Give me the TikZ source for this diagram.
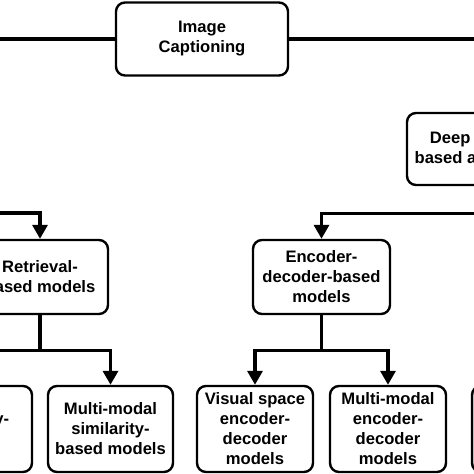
\documentclass[tikz,border=0pt]{standalone}
\usepackage{fontspec}
\setmainfont{Liberation Sans}
\usetikzlibrary{arrows.meta, positioning}

\begin{document}
\begin{tikzpicture}[x=1pt, y=-1pt,
  box/.style={draw, line width=2.4pt, rounded corners=9pt, align=center,
    font=\bfseries\fontsize{16.6}{20}\selectfont, inner sep=1pt},
  link/.style={line width=3.3pt},
  arr/.style={line width=3.3pt, -{Triangle[width=15pt,length=14pt]}}]
\useasboundingbox (0,0) rectangle (474,474);
\clip (0,0) rectangle (474,474);
% Root
\node[box, minimum width=172pt, minimum height=73pt] (cap) at (202,39) {Image\\Captioning};
\coordinate (capleft) at (-20,39);
\coordinate (capright) at (494,39);
\draw[link] (cap.west) -- (capleft);
\draw[link] (cap.east) -- (capright);
% Deep learning branch
\node[box, minimum width=161pt, minimum height=72pt] (deep) at (487.5,149) {Deep learning-\\based approaches};
% Second level
\node[box, minimum width=136pt, minimum height=74pt] (ret) at (40,277) {Retrieval-\\based models};
\node[box, minimum width=137pt, minimum height=74pt] (encdec) at (321.5,277) {Encoder-\\decoder-based\\models};
\coordinate (retin) at (-20,213);
\draw[arr] (retin) -| (ret.north);
\draw[arr] (deep.south) -- ++(0,27) -| (encdec.north);
% Leaves
\node[box, minimum width=124pt, minimum height=86pt] (vissim) at (-30,429) {Visual\\similarity-\\based\\models};
\node[box, minimum width=125pt, minimum height=86pt] (mmsim) at (110.5,429) {Multi-modal\\similarity-\\based models};
\node[box, minimum width=116pt, minimum height=86pt] (visenc) at (255,429) {Visual space\\encoder-\\decoder\\models};
\node[box, minimum width=116pt, minimum height=86pt] (mmenc) at (388,429) {Multi-modal\\encoder-\\decoder\\models};
\node[box, fill=gray!30, minimum width=116pt, minimum height=86pt] (other) at (530,429) {};
\draw[arr] (ret.south) -- ++(0,35) -| (vissim.north);
\draw[arr] (ret.south) -- ++(0,35) -| (mmsim.north);
\draw[arr] (encdec.south) -- ++(0,35) -| (visenc.north);
\draw[arr] (encdec.south) -- ++(0,35) -| (mmenc.north);
\end{tikzpicture}
\end{document}
